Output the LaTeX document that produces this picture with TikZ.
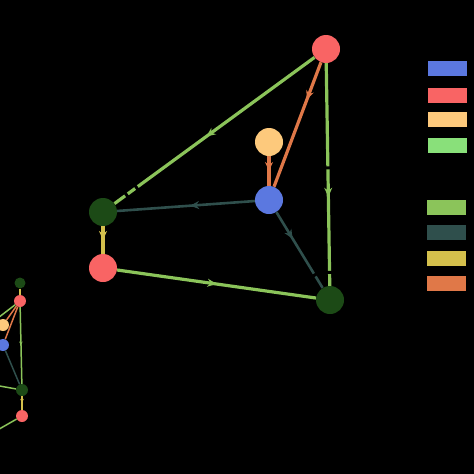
\documentclass[tikz,border=0pt]{standalone}
\usepackage{tikz}
\usetikzlibrary{arrows.meta, decorations.markings}

\definecolor{nodered}{HTML}{F96464}
\definecolor{nodeblue}{HTML}{5B78E0}
\definecolor{nodepeach}{HTML}{FDC97C}
\definecolor{nodegreen}{HTML}{1C4A16}
\definecolor{legendlime}{HTML}{89E07A}
\definecolor{edgegreen}{HTML}{8BC45A}
\definecolor{edgeslate}{HTML}{2F4F4C}
\definecolor{edgeyellow}{HTML}{D4C04C}
\definecolor{edgeorange}{HTML}{E07848}

\tikzstyle{vertex} = [circle, inner sep=0pt, minimum size=28pt]
\tikzstyle{smallvertex} = [circle, inner sep=0pt, minimum size=12pt]
\tikzstyle{swatch} = [minimum width=39pt, minimum height=15pt, inner sep=0pt]
\tikzstyle{link} = [line width=3.2pt]
\tikzstyle{thinlink} = [line width=1.5pt]
\tikzset{midarrow/.style={postaction={decorate, decoration={markings,
  mark=at position #1 with {\arrow{Stealth[length=9pt, width=8pt]}}}}}}
\tikzset{smallarrow/.style={postaction={decorate, decoration={markings,
  mark=at position #1 with {\arrow{Stealth[length=4pt, width=3.5pt]}}}}}}
\tikzset{gapat/.style={postaction={decorate, decoration={markings,
  mark=at position #1 with {\fill[black] (-1.5pt,-3pt) rectangle (1.5pt,3pt);}}}}}

\begin{document}
\begin{tikzpicture}[x=1pt, y=-1pt]

\fill[black] (0,0) rectangle (474,474);
\useasboundingbox (0,0) rectangle (474,474);
\clip (0,0) rectangle (474,474);

% main graph
\node (topred) [vertex, fill=nodered] at (326,49) {};
\node (peach) [vertex, fill=nodepeach] at (269,142) {};
\node (blue) [vertex, fill=nodeblue] at (269,200) {};
\node (leftgreen) [vertex, fill=nodegreen] at (103,212) {};
\node (leftred) [vertex, fill=nodered] at (103,268) {};
\node (rightgreen) [vertex, fill=nodegreen] at (330,300) {};

\draw [link, edgegreen, midarrow=0.54, gapat=0.89, gapat=0.94] (topred) -- (leftgreen);
\draw [link, edgeorange, midarrow=0.3] (topred) -- (blue);
\draw [link, edgegreen, midarrow=0.6, gapat=0.47, gapat=0.94] (topred) -- (rightgreen);
\draw [link, edgeorange, midarrow=0.5] (peach) -- (blue);
\draw [line width=2.6pt, edgeslate, midarrow=0.47] (blue) -- (leftgreen);
\draw [line width=2.6pt, edgeslate, midarrow=0.35, gapat=0.83] (blue) -- (rightgreen);
\draw [link, edgeyellow, midarrow=0.5] (leftgreen) -- (leftred);
\draw [link, edgegreen, midarrow=0.5] (leftred) -- (rightgreen);

% small copy at the left edge
\node (sgreen1) [smallvertex, minimum size=11pt, fill=nodegreen] at (20,283) {};
\node (sred1) [smallvertex, fill=nodered] at (20,301) {};
\node (speach) [smallvertex, fill=nodepeach] at (3,325) {};
\node (sblue) [smallvertex, fill=nodeblue] at (3,345) {};
\node (sgreen2) [smallvertex, fill=nodegreen] at (22,390) {};
\node (sred2) [smallvertex, fill=nodered] at (22,416) {};
\coordinate (offa) at (-6,321);
\coordinate (offb) at (-6,385);
\coordinate (offc) at (-6,432);

\draw [thinlink, edgeyellow] (sgreen1) -- (sred1);
\draw [thinlink, edgegreen] (sred1) -- (offa);
\draw [thinlink, edgeorange] (sred1) -- (speach);
\draw [thinlink, edgeorange] (sred1) -- (sblue);
\draw [thinlink, edgegreen, smallarrow=0.5] (sred1) -- (sgreen2);
\draw [thinlink, edgeslate] (sblue) -- (sgreen2);
\draw [thinlink, edgegreen] (offb) -- (sgreen2);
\draw [thinlink, edgeyellow, smallarrow=0.5] (sgreen2) -- (sred2);
\draw [thinlink, edgegreen] (sred2) -- (offc);

% legend
\node (keyblue) [swatch, fill=nodeblue] at (447,68) {};
\node (keyred) [swatch, fill=nodered] at (447,95) {};
\node (keypeach) [swatch, fill=nodepeach] at (447,119) {};
\node (keylime) [swatch, fill=legendlime] at (447,145) {};
\node (keygreen) [swatch, fill=edgegreen] at (446.5,207) {};
\node (keyslate) [swatch, fill=edgeslate] at (446.5,232) {};
\node (keyyellow) [swatch, fill=edgeyellow] at (446.5,258.5) {};
\node (keyorange) [swatch, fill=edgeorange] at (446.5,283) {};

\end{tikzpicture}
\end{document}
